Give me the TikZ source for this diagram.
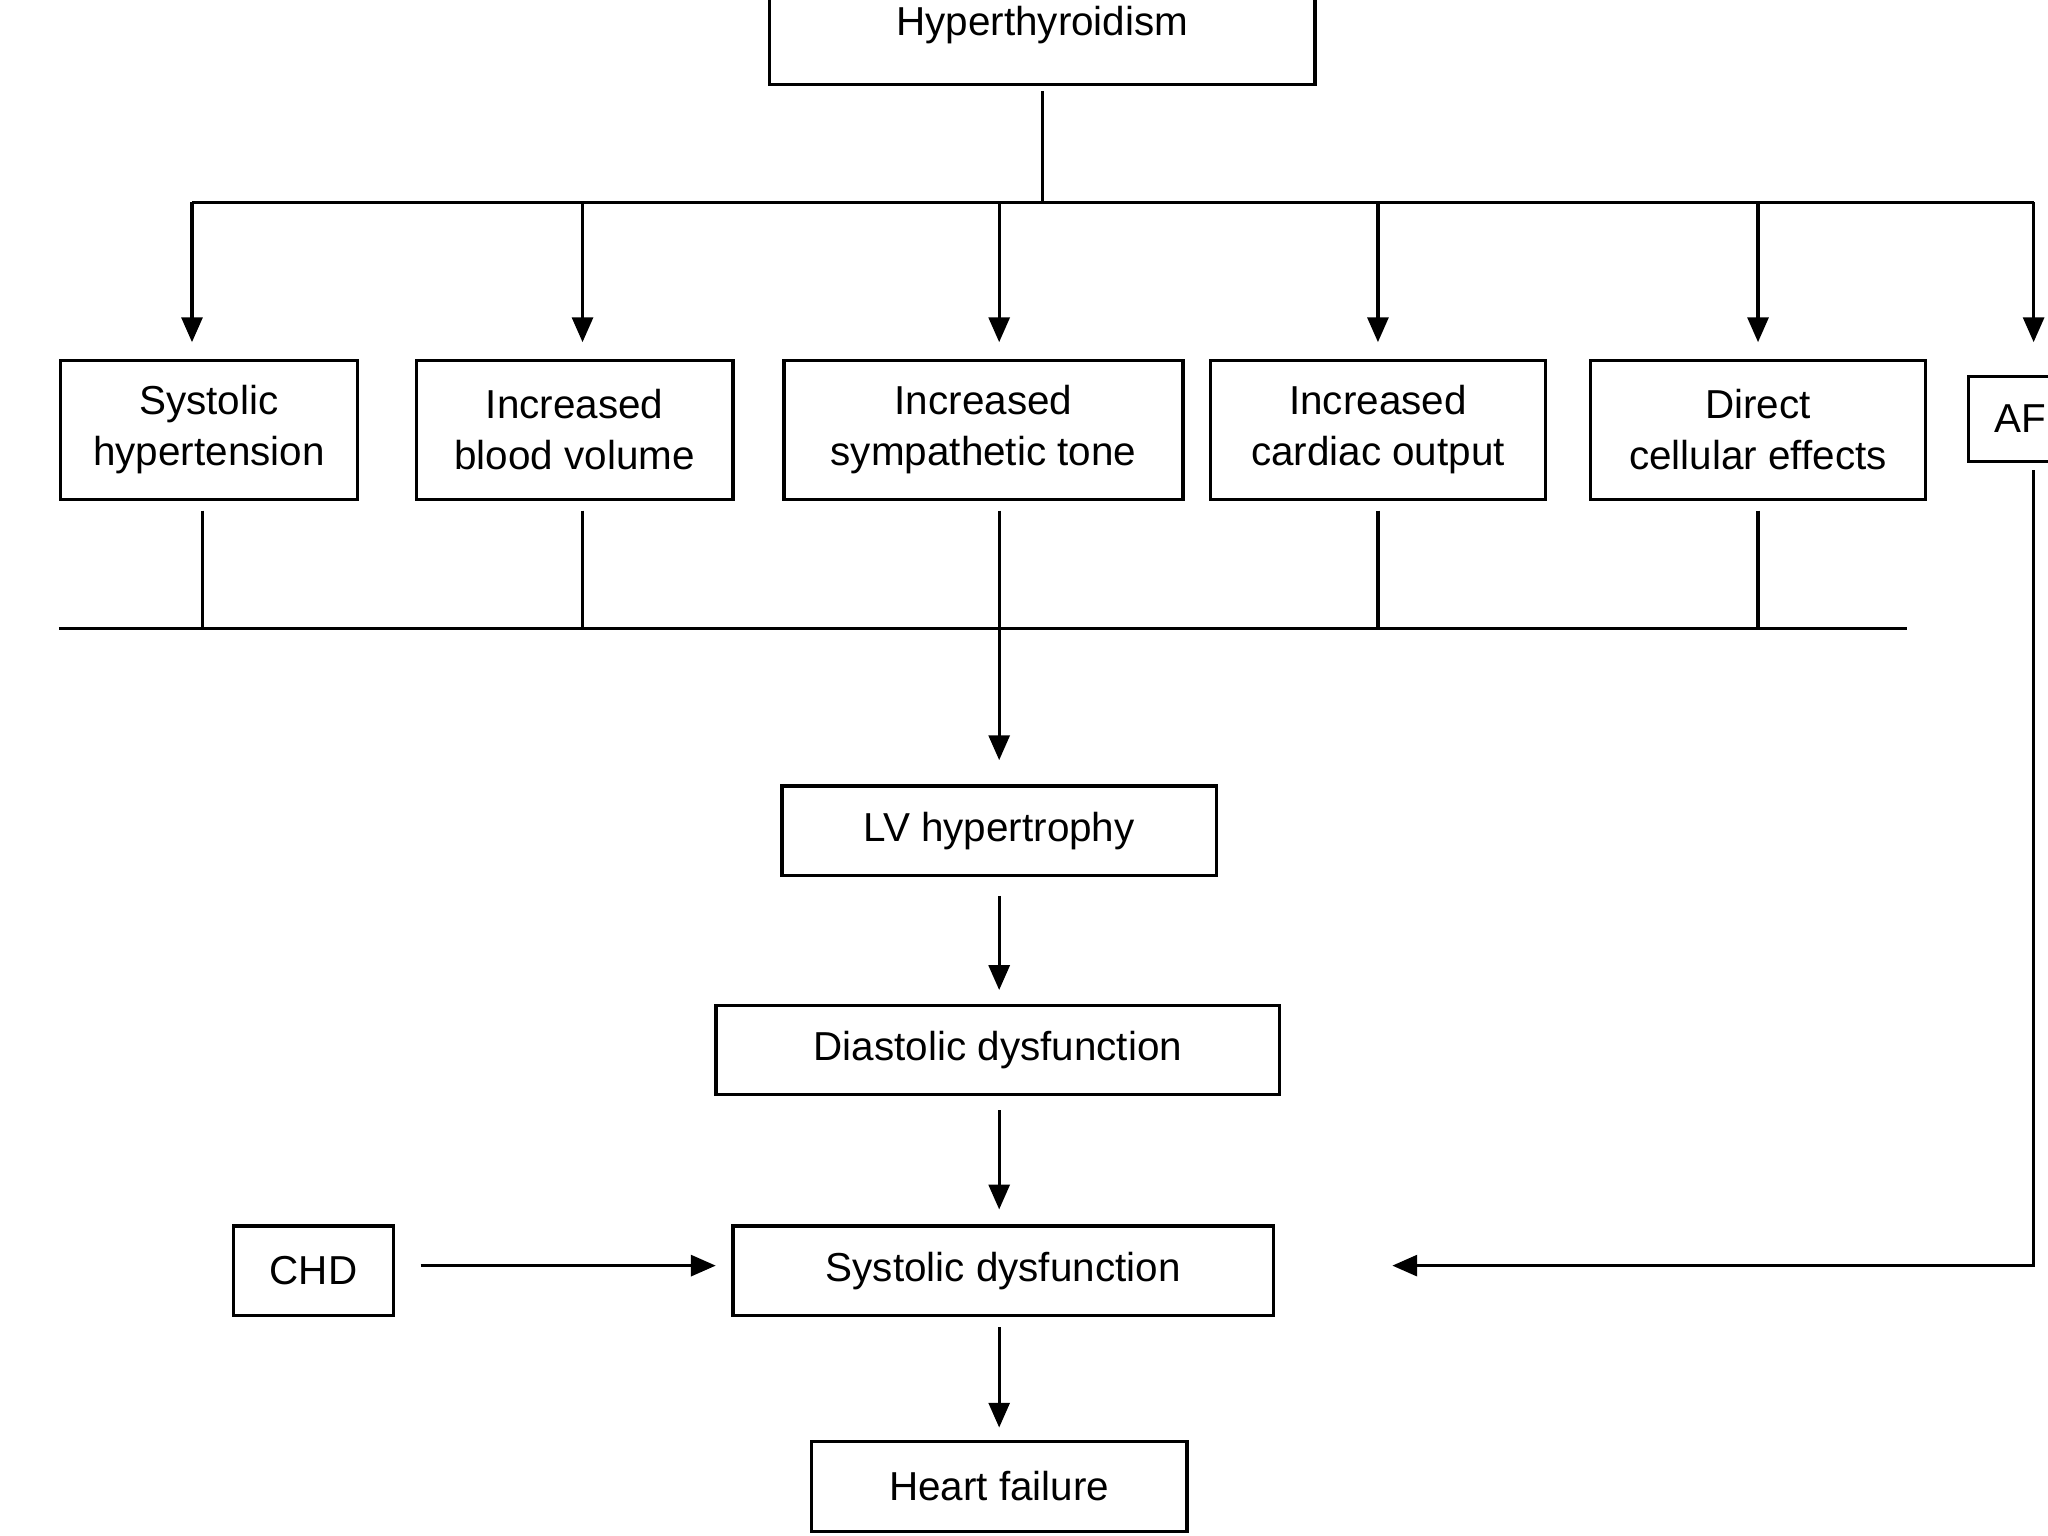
\documentclass[tikz,border=0pt]{standalone}
\usepackage{fontspec}
\setmainfont{Liberation Sans}
\usetikzlibrary{arrows.meta}
\begin{document}
\begin{tikzpicture}[x=0.01cm,y=-0.01cm,
  box/.style={draw,line width=0.7pt,inner sep=0pt,align=center,font=\fontsize{8.8pt}{11pt}\selectfont},
  ln/.style={line width=0.7pt},
  arr/.style={ln,-{Triangle[length=0.19cm,width=0.16cm]}}]
\useasboundingbox (0,0) rectangle (1568,1176);
\clip (0,0) rectangle (1568,1176);
\newcommand{\bx}[6]{\node[box,minimum width=#4*0.01cm-0.7pt,minimum height=#5*0.01cm-0.7pt] (#1) at (#2,#3) {#6};}
\bx{hyp}{798}{19}{420}{94}{Hyperthyroidism}
\bx{sh}{160}{329}{230}{109}{Systolic\\hypertension}
\bx{bv}{440}{329}{245}{109}{Increased\\blood volume}
\bx{st}{753}{329}{308}{109}{Increased\\sympathetic tone}
\bx{co}{1055}{329}{259}{109}{Increased\\cardiac output}
\bx{dc}{1346}{329}{259}{109}{Direct\\cellular effects}
\node[box,minimum width=1.2cm,minimum height=0.65cm,anchor=north west,text width=1.2cm,align=left] (af) at (1506,287) {\hspace{0.2cm}AF};
\bx{lv}{765}{636}{335}{71}{LV hypertrophy}
\bx{dd}{764}{804}{434}{71}{Diastolic dysfunction}
\bx{sd}{768}{973}{416}{71}{Systolic dysfunction}
\bx{chd}{240}{973}{125}{71}{CHD}
\bx{hf}{765}{1138}{290}{71}{Heart failure}
\coordinate (t0) at (798,70); \coordinate (t1) at (798,155);
\draw[ln] (t0) -- (t1);
\draw[ln] (147,155) -- (1557,155);
\foreach \x in {147,446,765,1055,1346,1557} \draw[arr] (\x,155) -- (\x,262);
\foreach \x in {155,446,765,1055,1346} \draw[ln] (\x,391) -- (\x,481);
\draw[ln] (45,481) -- (1460,481);
\draw[arr] (765,481) -- (765,582);
\draw[arr] (765,686) -- (765,758);
\draw[arr] (765,850) -- (765,926);
\draw[arr] (765,1016) -- (765,1093);
\draw[arr] (322,969) -- (548,969);
\draw[arr] (1557,360) -- (1557,969) -- (1066,969);
\end{tikzpicture}
\end{document}
